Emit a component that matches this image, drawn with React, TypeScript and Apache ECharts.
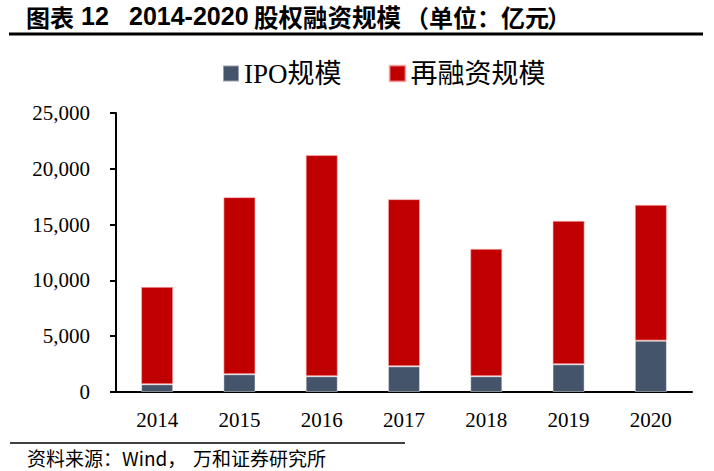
import React, { useEffect, useRef } from "react";
import * as echarts from "echarts";

const years = ["2014", "2015", "2016", "2017", "2018", "2019", "2020"];
const ipo = [690, 1590, 1410, 2300, 1410, 2480, 4600];
const refinance = [8730, 15870, 19820, 14980, 11420, 12860, 12170];
const yTicks = [0, 5000, 10000, 15000, 20000, 25000];

const serif = "'Liberation Serif', 'Times New Roman', 'Noto Sans CJK SC', serif";
const boldSans = "bold 25px 'Liberation Sans', Arial, 'Noto Sans CJK SC', sans-serif";
const cjkSans = "bold 24px 'Noto Sans CJK SC', sans-serif";

export default function App() {
  const ref = useRef<HTMLDivElement>(null);
  useEffect(() => {
    if (!ref.current) return;
    const chart = echarts.init(ref.current, undefined, { renderer: "svg" });
    const titleText = (text: string, x: number, font: string) => ({
      type: "text",
      x,
      y: 16,
      style: { text, font, fill: "#000", textVerticalAlign: "middle", verticalAlign: "middle" },
    });
    chart.setOption({
      animation: false,
      backgroundColor: "#ffffff",
      graphic: [
        titleText("图表", 26, cjkSans),
        titleText("12", 81, boldSans),
        titleText("2014-2020", 129, boldSans),
        titleText("股权融资规模", 254, "bold 24.5px 'Noto Sans CJK SC', sans-serif"),
        titleText("（", 405, cjkSans),
        titleText("单位：亿元", 429, cjkSans),
        titleText("）", 547, cjkSans),
        { type: "line", shape: { x1: 9, y1: 34, x2: 703, y2: 34 }, style: { stroke: "#000", lineWidth: 3 } },
        { type: "line", shape: { x1: 10, y1: 443, x2: 405, y2: 443 }, style: { stroke: "#000", lineWidth: 1.5 } },
        {
          type: "text",
          x: 27,
          y: 457,
          style: {
            text: "资料来源：Wind，",
            font: "19px 'Noto Sans CJK SC', sans-serif",
            fill: "#000",
            textVerticalAlign: "middle",
            verticalAlign: "middle",
          },
        },
        {
          type: "text",
          x: 193,
          y: 457,
          style: {
            text: "万和证券研究所",
            font: "19px 'Noto Sans CJK SC', sans-serif",
            fill: "#000",
            textVerticalAlign: "middle",
            verticalAlign: "middle",
          },
        },
      ],
      legend: {
        top: 55,
        left: 217,
        itemWidth: 16,
        itemHeight: 16,
        itemGap: 47,
        icon: "rect",
        textStyle: { fontFamily: serif, fontSize: 27, color: "#000" },
        data: ["IPO规模", "再融资规模"],
      },
      grid: { left: 116, right: 22, top: 113, bottom: 79, containLabel: false },
      xAxis: {
        type: "category",
        data: years,
        axisLine: { lineStyle: { color: "#000", width: 2 } },
        axisTick: { show: false },
        axisLabel: { fontFamily: serif, fontSize: 21, color: "#000", margin: 17 },
      },
      yAxis: {
        type: "value",
        min: yTicks[0],
        max: yTicks[yTicks.length - 1],
        interval: 5000,
        axisLine: { show: true, lineStyle: { color: "#000", width: 2 } },
        axisTick: { show: true, inside: false, length: 6, lineStyle: { color: "#000", width: 2 } },
        splitLine: { show: false },
        axisLabel: {
          fontFamily: serif,
          fontSize: 21,
          color: "#000",
          margin: 26,
          formatter: (v: number) => v.toLocaleString("en-US"),
        },
      },
      series: [
        {
          name: "IPO规模",
          type: "bar",
          stack: "total",
          data: ipo,
          barWidth: "39%",
          itemStyle: { color: "#44546A", borderColor: "rgba(255,255,255,0.45)", borderWidth: 1 },
        },
        {
          name: "再融资规模",
          type: "bar",
          stack: "total",
          data: refinance,
          barWidth: "39%",
          itemStyle: { color: "#C00000", borderColor: "rgba(255,180,180,0.6)", borderWidth: 1 },
        },
      ],
    });
    return () => chart.dispose();
  }, []);
  return (
    <div
      ref={ref}
      style={{ position: "fixed", left: 0, top: 0, width: 714, height: 471 }}
    />
  );
}
